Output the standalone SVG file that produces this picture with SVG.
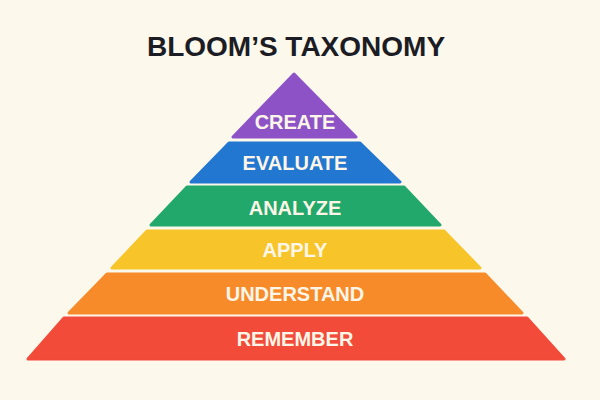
<svg xmlns="http://www.w3.org/2000/svg" width="600" height="400" viewBox="0 0 600 400">
<style>
.t{font-family:"Liberation Sans",Arial,sans-serif;font-weight:bold;fill:#fdf6e8;font-size:20px;text-anchor:middle}
.l{stroke-linejoin:round;stroke-width:3}
</style>
<rect width="600" height="400" fill="#fdf8ec"/>
<text x="296" y="56" font-family="'Liberation Sans',Arial,sans-serif" font-weight="bold" font-size="28" fill="#1c1c24" text-anchor="middle">BLOOM’S TAXONOMY</text>
<g id="create"><polygon class="l" points="294,74 356,137 233,137" fill="#8e52c7" stroke="#8e52c7"/><text class="t" x="295" y="129">CREATE</text></g>
<g id="evaluate"><polygon class="l" points="229,143 360,143 400,182 191,182" fill="#2277d0" stroke="#2277d0"/><text class="t" x="295" y="170">EVALUATE</text></g>
<g id="analyze"><polygon class="l" points="187,187 404,187 440,225 151,225" fill="#22a86a" stroke="#22a86a"/><text class="t" x="295" y="215">ANALYZE</text></g>
<g id="apply"><polygon class="l" points="147,231 444,231 480,268 112,268" fill="#f7c52a" stroke="#f7c52a"/><text class="t" x="295" y="257">APPLY</text></g>
<g id="understand"><polygon class="l" points="107,274 485,274 522,313 69,313" fill="#f78b2a" stroke="#f78b2a"/><text class="t" x="295" y="301">UNDERSTAND</text></g>
<g id="remember"><polygon class="l" points="64,318 527,318 564,359 28,359" fill="#f24b3a" stroke="#f24b3a"/><text class="t" x="295" y="346">REMEMBER</text></g>
<g id="connectors"/>
</svg>
